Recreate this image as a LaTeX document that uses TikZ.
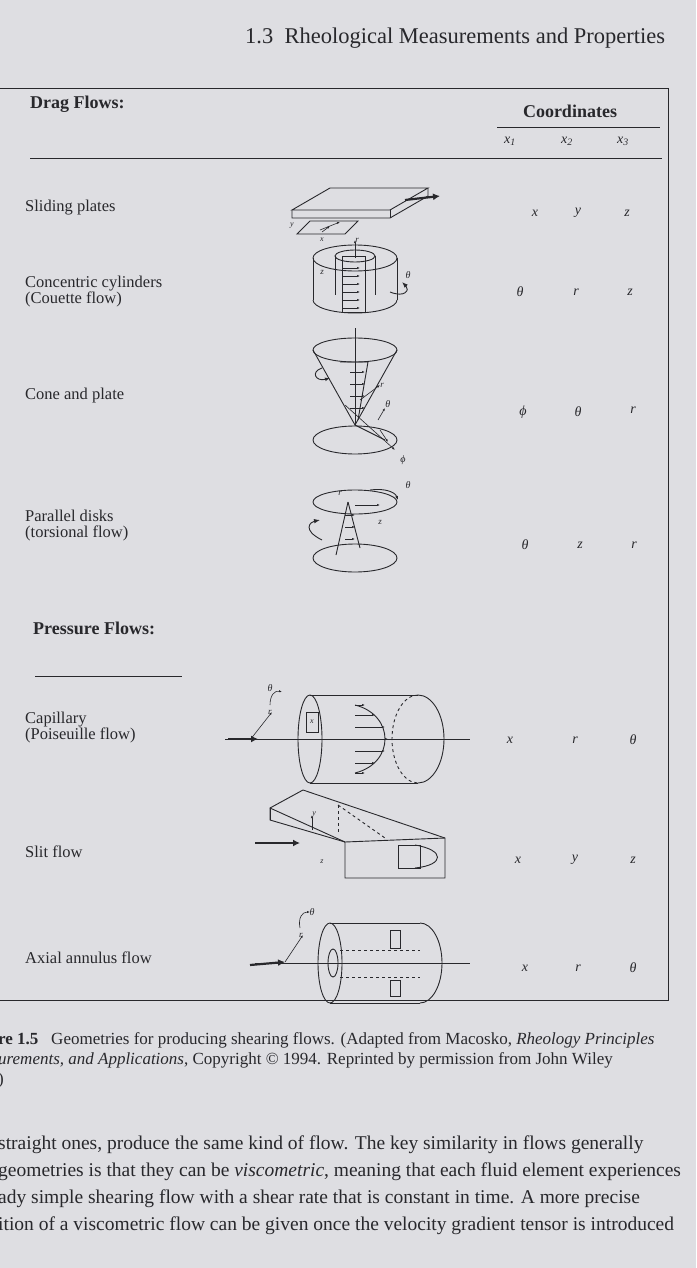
\documentclass[tikz,border=0pt]{standalone}
\usepackage{fontspec}
\setmainfont{Liberation Serif}
\usetikzlibrary{arrows.meta}
\definecolor{paper}{RGB}{222,222,226}
\definecolor{ink}{RGB}{40,40,44}
\tikzset{
 lbl/.style={anchor=west,align=left,font=\fontsize{16.5}{16}\selectfont,text=ink,inner sep=0pt},
 hd/.style={anchor=west,font=\bfseries\fontsize{18}{18}\selectfont,text=ink,inner sep=0pt},
 co/.style={font=\itshape\fontsize{14}{14}\selectfont,text=ink,inner sep=0pt},
 ln/.style={draw=ink,line width=0.8pt},
 fig/.style={draw=ink,line width=0.9pt},
 flow/.style={draw=ink,line width=2.2pt,-{Latex[length=7pt,width=7pt]}},
 sm/.style={draw=ink,line width=0.6pt,-{Latex[length=3pt]}},
 body/.style={anchor=west,font=\fontsize{19.5}{20}\selectfont,text=ink,inner sep=0pt},
}
\begin{document}
\begin{tikzpicture}[x=1pt,y=-1pt]
\fill[paper] (0,0) rectangle (696,1268);
\useasboundingbox (0,0) rectangle (696,1268);
\begin{scope}
\clip (0,0) rectangle (696,1268);
\node[anchor=west,font=\fontsize{22.5}{22}\selectfont,text=ink,inner sep=0pt] (hdr) at (245,38) {1.3\ \ Rheological Measurements and Properties};
% frame
\draw[ln] (-5,88) -- (668,88) -- (668,1000) -- (-5,1000);
\node[hd] (drag) at (30,104) {Drag Flows:};
\node[hd,anchor=center] (coord) at (570,111) {Coordinates};
\draw[ln] (497,127) -- (660,127);
\node[co] (c1) at (510,141) {x\textsubscript{1}};
\node[co] (c2) at (567,141) {x\textsubscript{2}};
\node[co] (c3) at (623,141) {x\textsubscript{3}};
\draw[ln] (30,158) -- (662,158);
% rows
\node[lbl] (r1) at (25,208) {Sliding plates};
\node[co] at (535,213) {x};\node[co] at (578,213) {y};\node[co] at (627,213) {z};
\node[lbl] (r2) at (25,292) {Concentric cylinders\\(Couette flow)};
\node[co] at (520,292) {θ};\node[co] at (576,292) {r};\node[co] at (630,292) {z};
\node[lbl] (r3) at (25,396) {Cone and plate};
\node[co] at (523,412) {ϕ};\node[co] at (578,412) {θ};\node[co] at (633,410) {r};
\node[lbl] (r4) at (25,526) {Parallel disks\\(torsional flow)};
\node[co] at (525,545) {θ};\node[co] at (580,545) {z};\node[co] at (634,545) {r};
\node[hd] (press) at (33,628) {Pressure Flows:};
\draw[ln] (35,676) -- (182,676);
\node[lbl] (r5) at (25,728) {Capillary\\(Poiseuille flow)};
\node[co] at (510,740) {x};\node[co] at (575,740) {r};\node[co] at (633,740) {θ};
\node[lbl] (r6) at (25,852) {Slit flow};
\node[co] at (518,860) {x};\node[co] at (575,860) {y};\node[co] at (633,860) {z};
\node[lbl] (r7) at (25,958) {Axial annulus flow};
\node[co] at (525,968) {x};\node[co] at (578,968) {r};\node[co] at (633,968) {θ};
% sliding plates
\draw[fig] (330,188) -- (428,188) -- (390,210) -- (292,210) -- cycle;
\draw[fig] (292,210) -- (292,218) -- (390,218) -- (428,196) -- (428,188);
\draw[fig] (390,210) -- (390,218);
\draw[flow] (405,200) -- (440,196);
\draw[fig] (310,221) -- (358,221) -- (345,234) -- (297,234) -- cycle;
\draw[sm] (320,230) -- (340,222); \draw[sm] (322,232)--(330,226);
\node[co,font=\itshape\fontsize{8}{8}\selectfont] at (292,226) {y};
\node[co,font=\itshape\fontsize{8}{8}\selectfont] at (322,240) {x};
% concentric cylinders
\draw[fig] (355,258) ellipse (42 and 13);
\draw[fig] (313,258) -- (313,300); \draw[fig] (397,258) -- (397,300);
\draw[fig] (313,300) arc (180:0:42 and 13);
\draw[fig] (355,256) ellipse (20 and 6);
\draw[fig] (335,256) -- (335,295); \draw[fig] (375,256)--(375,295);
\draw[fig] (342,256) rectangle (365,312);
\foreach \yy in {268,276,284,292,300,308} \draw[sm] (343,\yy) -- (360,\yy);
\draw[sm] (355,258) -- (355,240) node[co,right,font=\itshape\fontsize{9}{9}\selectfont] {r};
\draw[fig,-{Latex[length=6pt]}] (390,292) .. controls (405,298) and (410,290) .. (402,282);
\node[co,font=\itshape\fontsize{10}{10}\selectfont] at (408,275) {θ};
\node[co,font=\itshape\fontsize{9}{9}\selectfont] at (322,272) {z};
% cone and plate
\draw[fig] (355,350) ellipse (42 and 12);
\draw[fig] (355,440) ellipse (42 and 14);
\draw[fig] (313,350) -- (355,425) -- (397,350);
\draw[fig] (355,425) -- (355,328);
\draw[fig] (340,362) -- (368,362) -- (358,420);
\foreach \yy in {372,384,396,408} \draw[sm] (350,\yy) -- (365,\yy);
\draw[fig,-{Latex[length=5pt]}] (322,368) .. controls (310,372) and (316,382) .. (330,378);
\draw[sm] (360,400) -- (380,385) node[co,right,font=\itshape\fontsize{9}{9}\selectfont] {r};
\draw[sm] (378,420) -- (385,408) node[co,above right,font=\itshape\fontsize{10}{10}\selectfont] {θ};
\draw[fig] (355,425) -- (385,440) ; \draw[sm](345,405)--(395,450);
\draw[sm] (380,430) -- (388,442);
\node[co,font=\itshape\fontsize{10}{10}\selectfont] at (403,460) {ϕ};
% parallel disks
\draw[fig] (355,502) ellipse (42 and 12);
\draw[fig] (355,558) ellipse (42 and 14);
\draw[fig] (348,502) -- (336,555);\draw[fig](348,502)--(360,548);
\foreach \yy in {515,527,539} \draw[sm] (345,\yy) -- (355,\yy);
\draw[sm] (355,505) -- (380,505);
\node[co,font=\itshape\fontsize{9}{9}\selectfont] at (340,493) {r};
\node[co,font=\itshape\fontsize{9}{9}\selectfont] at (380,522) {z};
\draw[fig,-{Latex[length=6pt]}] (322,540) .. controls (302,530) and (310,522) .. (320,520);
\draw[fig,-{Latex[length=4pt]}] (370,490) .. controls (385,488) and (395,492) .. (398,500);
\node[co,font=\itshape\fontsize{10}{10}\selectfont] at (408,485) {θ};
% capillary
\draw[fig] (310,695) -- (418,695); \draw[fig] (310,783) -- (418,783);
\draw[fig] (310,739) ellipse (12 and 44);
\draw[fig] (418,695) arc (-90:90:26 and 44);
\draw[fig,dashed] (418,695) arc (-90:-270:26 and 44);
\foreach \yy/\l in {705/10,715/20,727/30,739/33,751/30,763/20,773/10} \draw[sm](355,\yy)--++(\l,0);
\draw[fig] (355,705) .. controls (395,715) and (395,763) .. (355,773);
\draw[fig] (225,739) -- (470,739);
\draw[flow] (228,739) -- (258,739);
\draw[sm] (250,740) -- (272,712) node[co,left,font=\itshape\fontsize{9}{9}\selectfont] {r};
\draw[sm] (270,705) .. controls (270,695) and (275,690) .. (282,692);
\node[co,font=\itshape\fontsize{10}{10}\selectfont] at (270,688) {θ};
\draw[fig] (306,712) rectangle (318,732); \node[co,font=\itshape\fontsize{8}{8}\selectfont] at (312,722) {x};
% slit
\draw[fig] (270,808) -- (303,790) -- (445,838) -- (445,878) -- (345,878) -- (345,842) -- (270,820)-- cycle;
\draw[fig] (270,808) -- (345,842) -- (445,838);
\draw[fig] (270,808) -- (270,820);
\draw[fig,dashed] (338,805) -- (385,838); \draw[fig,dashed](338,805)--(338,835);
\draw[flow] (255,843) -- (300,843);
\draw[fig] (398,845) rectangle (420,868);
\draw[fig] (415,845) .. controls (445,850) and (445,865) .. (415,868);
\draw[sm] (312,830) -- (312,815) node[co,right,font=\itshape\fontsize{8}{8}\selectfont] {y};
\node[co,font=\itshape\fontsize{8}{8}\selectfont] at (322,862) {z};
% annulus
\draw[fig] (330,923) -- (420,923); \draw[fig] (330,1003) -- (420,1003);
\draw[fig] (330,963) ellipse (12 and 40);
\draw[fig] (333,963) ellipse (5 and 14);
\draw[fig] (420,923) arc (-90:90:22 and 40);
\draw[fig,dashed] (340,950)--(420,950);\draw[fig,dashed](340,977)--(420,977);
\draw[fig] (390,930) rectangle (400,948); \draw[fig] (390,980) rectangle (400,996);
\draw[fig] (255,963) -- (470,963);
\draw[flow] (250,965) -- (285,962);
\draw[sm] (285,962) -- (303,935) node[co,left,font=\itshape\fontsize{9}{9}\selectfont] {r};
\draw[sm] (300,928) .. controls (298,918) and (302,912) .. (310,912);
\node[co,font=\itshape\fontsize{10}{10}\selectfont] at (312,912) {θ};
% caption & text
\node[body,font=\fontsize{17}{17}\selectfont] (cap) at (-2,1040) {\textbf{re 1.5}\ \ \ Geometries for producing shearing flows. (Adapted from Macosko, \textit{Rheology Principles}};
\node[body,font=\fontsize{17}{17}\selectfont] (cap2) at (-2,1060) {\textit{urements, and Applications}, Copyright © 1994. Reprinted by permission from John Wiley};
\node[body,font=\fontsize{17}{17}\selectfont] (cap3) at (-2,1080) {)};
\node[body] (t1) at (-2,1145) {straight ones, produce the same kind of flow. The key similarity in flows generally};
\node[body] (t2) at (-2,1172) {geometries is that they can be \textit{viscometric}, meaning that each fluid element experiences};
\node[body] (t3) at (-2,1199) {ady simple shearing flow with a shear rate that is constant in time. A more precise};
\node[body] (t4) at (-2,1226) {ition of a viscometric flow can be given once the velocity gradient tensor is introduced};
\end{scope}
\end{tikzpicture}
\end{document}
